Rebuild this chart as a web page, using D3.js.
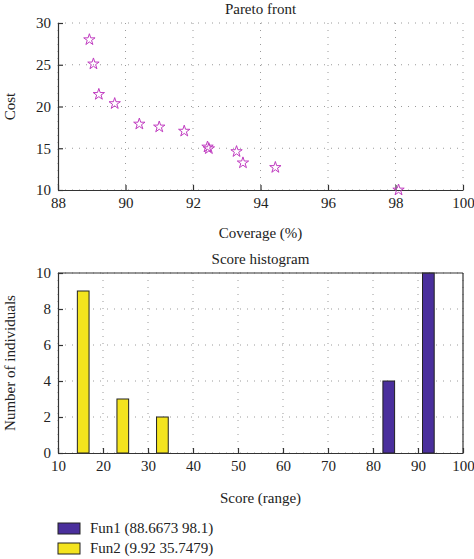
<!DOCTYPE html>
<html>
<head>
<meta charset="utf-8">
<script src="https://cdn.jsdelivr.net/npm/d3@7"></script>
<style>
  body { margin: 0; background: #fff; }
  svg text { font-family: "Liberation Serif", "DejaVu Serif", serif; fill: #222; }
</style>
</head>
<body>
<div id="chart"></div>
<script>
// pareto front points
var coverage = [88.93, 89.05, 89.21, 89.68, 90.41, 91.0, 91.74, 92.43, 92.47, 93.29, 93.48, 94.44, 98.09];
var cost     = [28.0, 25.1, 21.45, 20.35, 17.9, 17.55, 17.05, 15.15, 14.95, 14.6, 13.25, 12.7, 10.0];
var paretoXTicks = [88, 90, 92, 94, 96, 98, 100];
var paretoYTicks = [10, 15, 20, 25, 30];

// score histogram
var fun1Centers = [83.5, 92.3];
var fun1Counts  = [4, 10];
var fun2Centers = [15.6, 24.4, 33.2];
var fun2Counts  = [9, 3, 2];
var histXTicks  = [10, 20, 30, 40, 50, 60, 70, 80, 90, 100];
var histYTicks  = [0, 2, 4, 6, 8, 10];
var legendLabels = ['Fun1 (88.6673 98.1)', 'Fun2 (9.92 35.7479)'];

var W = 474, H = 559;
var LEFT = 58, RIGHT = 463;
var BAR_W = 2.6;
var FUN1_COLOR = '#4a2f9c', FUN2_COLOR = '#f4e41e';
var GRID = '#9a9a9a';

var svg = d3.select('#chart').append('svg').attr('width', W).attr('height', H);

function grid(g, x, y, xt, yt, top, bottom) {
    g.selectAll('.gx').data(xt).enter().append('line')
    .attr('x1', function(d) { return x(d); }).attr('x2', function(d) { return x(d); })
    .attr('y1', top).attr('y2', bottom)
    .attr('stroke', GRID).attr('stroke-width', 1).attr('stroke-dasharray', '1,6');
    g.selectAll('.gy').data(yt).enter().append('line')
    .attr('x1', LEFT).attr('x2', RIGHT)
    .attr('y1', function(d) { return y(d); }).attr('y2', function(d) { return y(d); })
    .attr('stroke', GRID).attr('stroke-width', 1).attr('stroke-dasharray', '1,6');
}

function axes(g, x, y, xt, yt, top, bottom) {
    g.append('g').attr('transform', 'translate(0,' + bottom + ')')
    .call(d3.axisBottom(x).tickValues(xt).tickSizeInner(-5).tickSizeOuter(0).tickPadding(7))
    .call(styleAxis);
    g.append('g').attr('transform', 'translate(' + LEFT + ',0)')
    .call(d3.axisLeft(y).tickValues(yt).tickSizeInner(-5).tickSizeOuter(0).tickPadding(7))
    .call(styleAxis);
}

function styleAxis(sel) {
    sel.select('.domain').attr('stroke', '#333').attr('stroke-width', 1.2);
    sel.selectAll('.tick line').attr('stroke', '#333').attr('stroke-width', 1.2);
    sel.selectAll('.tick text').attr('font-size', 15)
    .style('font-family', '"Liberation Serif", "DejaVu Serif", serif').attr('fill', '#222');
}

// ---- Pareto front
var pTop = 23, pBottom = 190;
var px = d3.scaleLinear().domain([88, 100]).range([LEFT, RIGHT]);
var py = d3.scaleLinear().domain([10, 30]).range([pBottom, pTop]);
var pg = svg.append('g');
grid(pg, px, py, paretoXTicks, paretoYTicks, pTop, pBottom);
axes(pg, px, py, paretoXTicks, paretoYTicks, pTop, pBottom);

var star = d3.symbol().type(d3.symbolStar).size(40);
pg.selectAll('.pt').data(coverage).enter().append('path')
.attr('d', star)
.attr('transform', function(d, i) { return 'translate(' + px(d) + ',' + py(cost[i]) + ')'; })
.attr('fill', 'none').attr('stroke', '#c03cc0').attr('stroke-width', 1);

pg.append('text').attr('x', (LEFT + RIGHT) / 2).attr('y', 14).attr('text-anchor', 'middle')
.attr('font-size', 15).text('Pareto front');
pg.append('text').attr('x', (LEFT + RIGHT) / 2).attr('y', 238).attr('text-anchor', 'middle')
.attr('font-size', 15).text('Coverage (%)');
pg.append('text').attr('transform', 'translate(15,' + (pTop + pBottom) / 2 + ') rotate(-90)')
.attr('text-anchor', 'middle').attr('font-size', 15).text('Cost');

// ---- Score histogram
var hTop = 273, hBottom = 453;
var hx = d3.scaleLinear().domain([10, 100]).range([LEFT, RIGHT]);
var hy = d3.scaleLinear().domain([0, 10]).range([hBottom, hTop]);
var hg = svg.append('g');
grid(hg, hx, hy, histXTicks, histYTicks, hTop, hBottom);

function bars(centers, counts, color) {
    hg.selectAll(null).data(centers).enter().append('rect')
    .attr('x', function(d) { return hx(d - BAR_W / 2); })
    .attr('width', function(d) { return hx(d + BAR_W / 2) - hx(d - BAR_W / 2); })
    .attr('y', function(d, i) { return hy(counts[i]); })
    .attr('height', function(d, i) { return hy(0) - hy(counts[i]); })
    .attr('fill', color).attr('stroke', '#222').attr('stroke-width', 1);
}
bars(fun2Centers, fun2Counts, FUN2_COLOR);
bars(fun1Centers, fun1Counts, FUN1_COLOR);

axes(hg, hx, hy, histXTicks, histYTicks, hTop, hBottom);
// box: top and right edges
hg.append('line').attr('x1', LEFT).attr('x2', RIGHT).attr('y1', hTop).attr('y2', hTop)
.attr('stroke', '#333').attr('stroke-width', 1.2);
hg.append('line').attr('x1', RIGHT).attr('x2', RIGHT).attr('y1', hTop).attr('y2', hBottom)
.attr('stroke', '#333').attr('stroke-width', 1.2);

hg.append('text').attr('x', (LEFT + RIGHT) / 2).attr('y', 264).attr('text-anchor', 'middle')
.attr('font-size', 15).text('Score histogram');
hg.append('text').attr('x', (LEFT + RIGHT) / 2).attr('y', 503).attr('text-anchor', 'middle')
.attr('font-size', 15).text('Score (range)');
hg.append('text').attr('transform', 'translate(15,' + (hTop + hBottom) / 2 + ') rotate(-90)')
.attr('text-anchor', 'middle').attr('font-size', 15).text('Number of individuals');

// legend
var legColors = [FUN1_COLOR, FUN2_COLOR];
var leg = svg.append('g').selectAll('g').data(legendLabels).enter().append('g')
.attr('transform', function(d, i) { return 'translate(58,' + (523 + i * 20) + ')'; });
leg.append('rect').attr('width', 22).attr('height', 11)
.attr('fill', function(d, i) { return legColors[i]; }).attr('stroke', '#222').attr('stroke-width', 1);
leg.append('text').attr('x', 32).attr('y', 10).attr('font-size', 15).text(function(d) { return d; });
</script>
</body>
</html>
